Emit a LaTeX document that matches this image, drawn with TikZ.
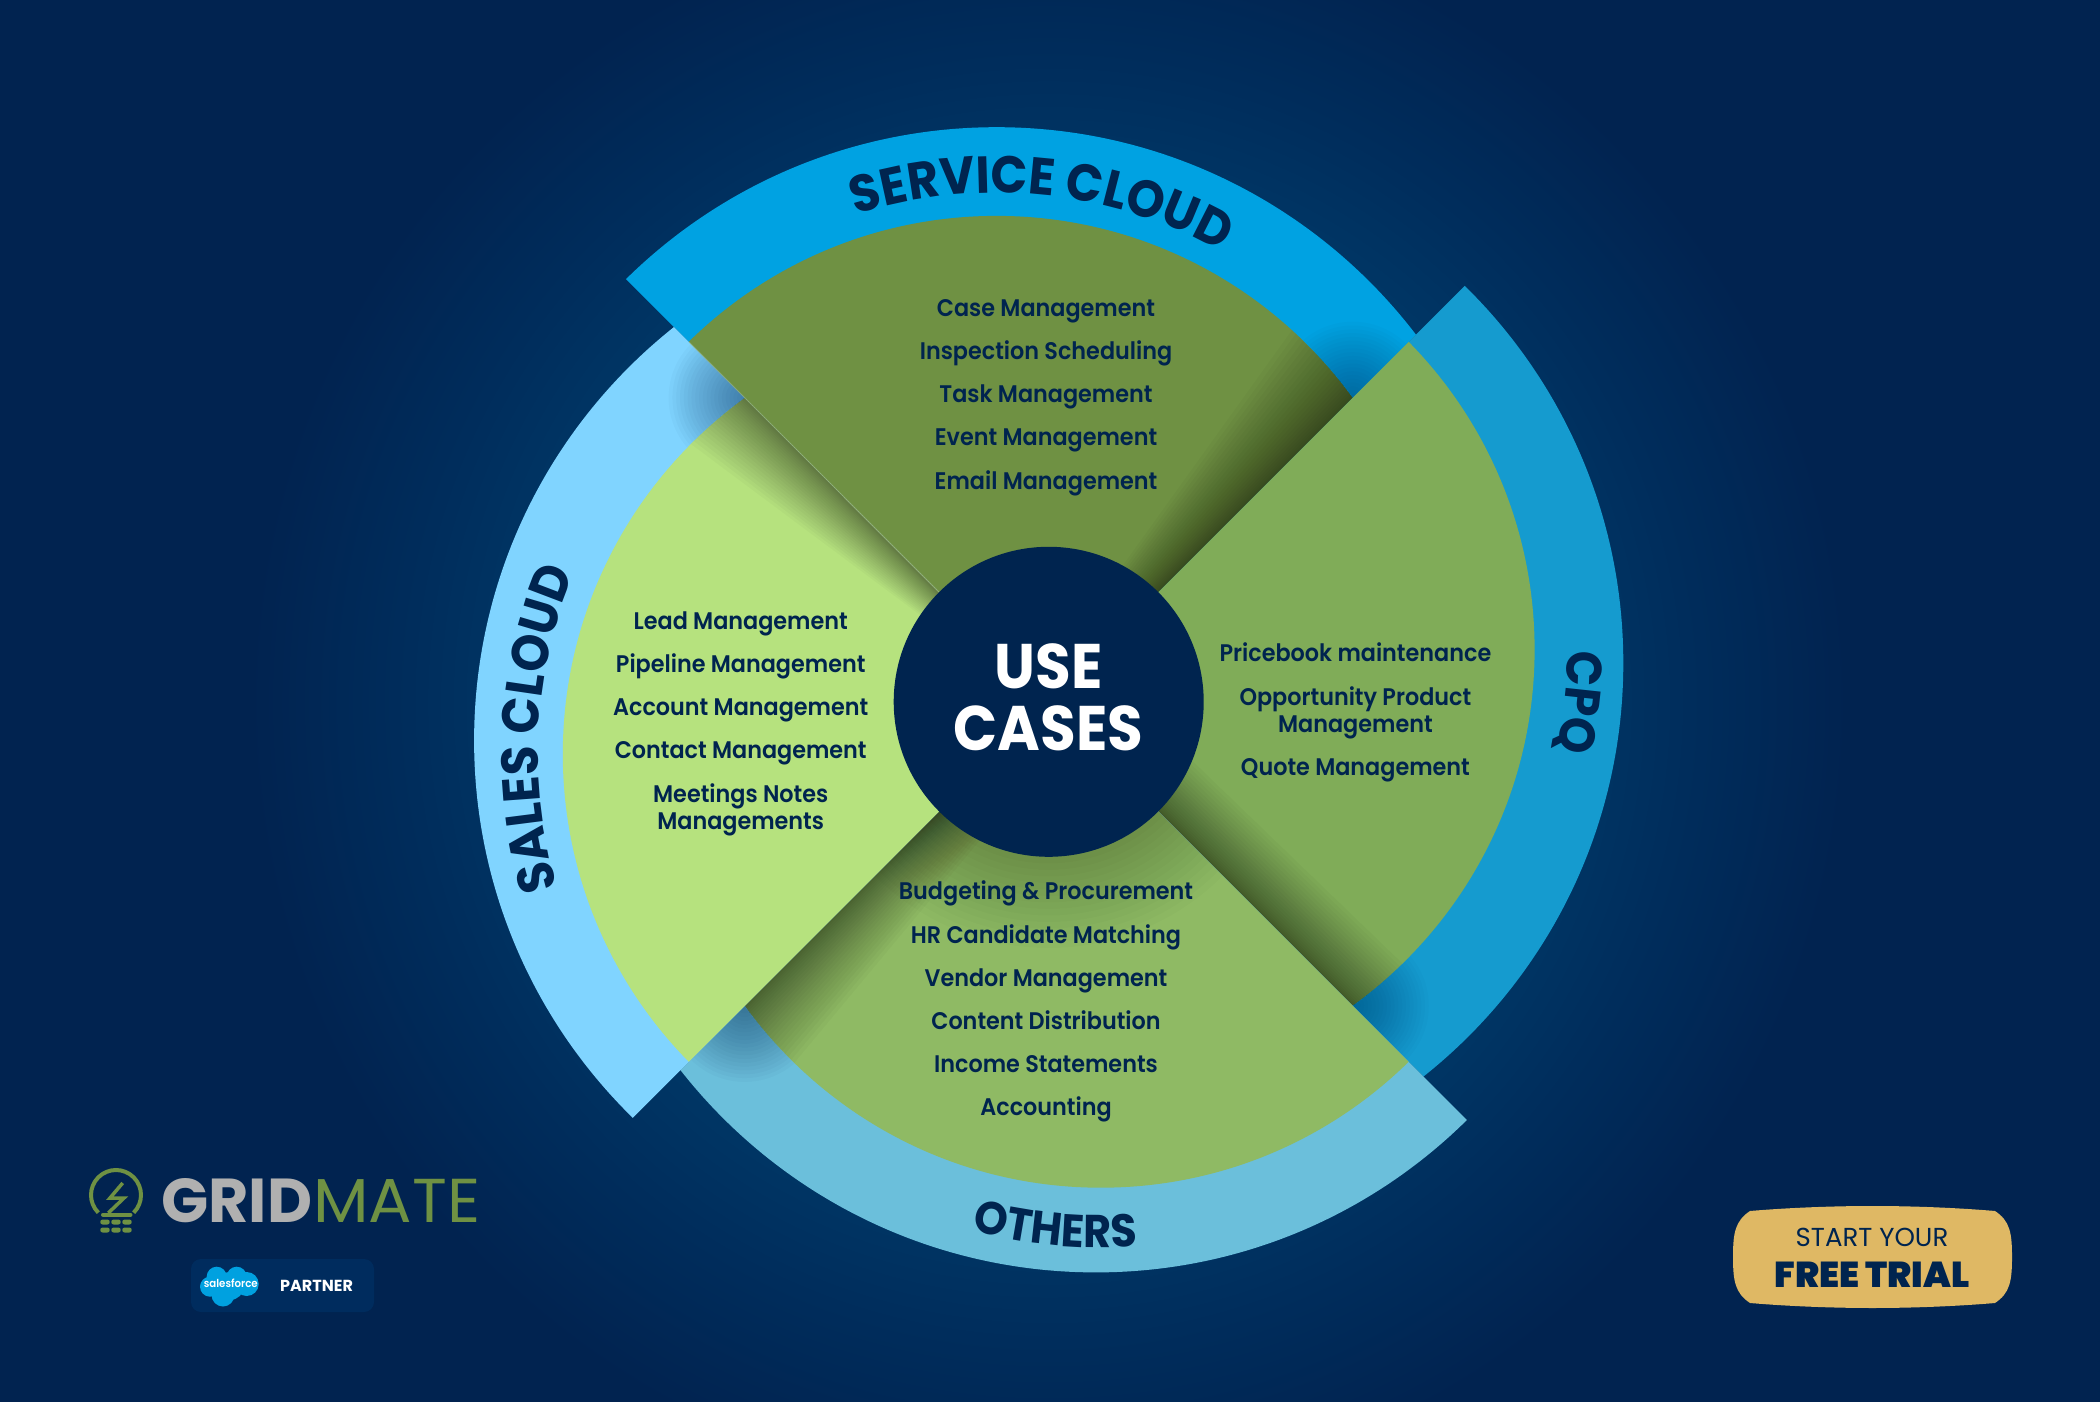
\documentclass[tikz,border=0pt]{standalone}
\usepackage{fontspec}
\usetikzlibrary{decorations.text}
\setmainfont{Poppins}
\newfontfamily\fmed[FakeStretch=0.93]{Poppins SemiBold}
\newfontfamily\fcurve[FakeStretch=0.93]{Poppins Bold}
\newfontfamily\fhub[FakeStretch=0.92]{Poppins Bold}
\newfontfamily\fbold{Poppins Bold}
\newfontfamily\flight[FakeStretch=1.04]{Poppins}
\newfontfamily\freg{Poppins}
\newfontfamily\fblack{Poppins Black}
\definecolor{navy}{HTML}{00244F}
\definecolor{bgbase}{HTML}{012350}
\definecolor{gServ}{HTML}{6F9143}
\definecolor{bServ}{HTML}{00A2E2}
\definecolor{gCpq}{HTML}{80AC58}
\definecolor{bCpq}{HTML}{159BCF}
\definecolor{gOth}{HTML}{8FBA64}
\definecolor{bOth}{HTML}{6BBFDB}
\definecolor{gSal}{HTML}{B6E27E}
\definecolor{bSal}{HTML}{80D4FF}
\definecolor{gold}{HTML}{DFB864}
\definecolor{pbg}{HTML}{002C5E}
\definecolor{sfblue}{HTML}{00A1E0}
\definecolor{lgray}{HTML}{B0B0B0}
\definecolor{glowA}{HTML}{004070}
\definecolor{glowB}{HTML}{003D6E}
\definecolor{glowC}{HTML}{003766}
\definecolor{glowD}{HTML}{002D5C}
\pgfdeclareradialshading{bgglow}{\pgfpoint{0bp}{0bp}}{%
  color(0bp)=(glowA);
  color(12.5bp)=(glowB);
  color(16bp)=(glowC);
  color(20bp)=(glowD);
  color(25bp)=(bgbase);
  color(50bp)=(bgbase)}
\tikzset{
  item/.style={anchor=base,inner sep=0pt,text=navy,align=center,font=\fontsize{24}{24}\selectfont\fmed},
}
% #1 rotation, #2 band colour, #3 green colour, #4 width near centre, #5 width at rim, #6 step opacity, #7 blob step opacity, #8 band centre (local)
\newcommand{\sectorpiece}[8]{%
  \begin{scope}[shift={(1048.7,699.2)},rotate=#1]
    \begin{scope}
      \clip (0,0)--(135:1200)--(45:1200)--cycle;
      \fill[#2] #8 circle (527.7);
      \begin{scope}
        \clip #8 circle (527.7);
        \foreach \k in {1,...,20}{\fill[bgbase,opacity=#7] (45:430) circle ({\k*3.8});}
      \end{scope}
      \fill[#3] (-52.2,46.9) circle (439);
      \begin{scope}
        \clip (-52.2,46.9) circle (439);
        \begin{scope}[rotate=45]
          \foreach \k in {1,...,24}{%
            \pgfmathsetmacro{\f}{pow(\k/24,1.4)}%
            \pgfmathsetmacro{\wl}{\f*(#4-(#5-#4)*0.2)}%
            \pgfmathsetmacro{\wh}{\f*(#5+(#5-#4)*0.98)}%
            \fill[black,opacity=#6] (100,0)--(100,\wl)--(700,\wh)--(700,0)--cycle;}
        \end{scope}
      \end{scope}
    \end{scope}
  \end{scope}}
\begin{document}
\begin{tikzpicture}[x=1pt,y=1pt]
\useasboundingbox (0,0) rectangle (2100,1401);
\fill[bgbase] (-5,-5) rectangle (2105,1406);
\shade[shading=bgglow] (1048.7,699.2) circle (800);

\sectorpiece{0}{bServ}{gServ}{45}{90}{0.024}{0.022}{(-52.2,46.9)}
\sectorpiece{-90}{bCpq}{gCpq}{60}{65}{0.024}{0.022}{(-38.8,46.9)}
\sectorpiece{-180}{bOth}{gOth}{50}{75}{0.022}{0.026}{(-47.2,42.9)}
\sectorpiece{-270}{bSal}{gSal}{30}{70}{0.022}{0.026}{(-38.8,46.9)}

% soft darkening round the hub on the lower sector
\begin{scope}[shift={(1048.7,699.2)}]
  \clip (0,0)--(225:400)--(315:400)--cycle;
  \foreach \k in {1,...,14}{\fill[black,opacity=0.014] (0,0) circle ({155+\k*6.5});}
\end{scope}

% hairline on the service / sales edge
\coordinate (hairA) at (938.9,809);
\coordinate (hairB) at (689,1059);
\draw[gServ!70!white,opacity=.7,line width=1pt] (hairA)--(hairB);

% hub
\node[circle,fill=navy,minimum size=310pt,inner sep=0pt] (hub) at (1048.7,699.2) {};
\node[anchor=base,inner sep=0pt,text=white,font=\fontsize{63}{63}\selectfont\fhub] (use) at (1048.5,712) {USE};
\node[anchor=base,inner sep=0pt,text=white,font=\fontsize{63}{63}\selectfont\fhub] (cases) at (1048.5,650) {CASES};

% curved labels
\path[decorate,decoration={text along path,text align=center,text={|\fontsize{52}{52}\selectfont\fcurve\color{navy}|SERVICE CLOUD}}]
  (996.5,746.1) ++(134.3:462) arc[start angle=134.3,end angle=34.3,radius=462];
\path[decorate,decoration={text along path,text align=center,text={|\fontsize{50}{50}\selectfont\fcurve\color{navy}|CPQ}}]
  (1095.6,751.4) ++(43.8:472) arc[start angle=43.8,end angle=-56.2,radius=472];
\path[decorate,decoration={text along path,text align=center,text={|\fontsize{46}{46}\selectfont\fcurve\color{navy}|OTHERS}}]
  (1100.9,652.3) ++(224.6:499) arc[start angle=224.6,end angle=304.6,radius=499];
\path[decorate,decoration={text along path,text align=center,text={|\fontsize{52}{52}\selectfont\fcurve\color{navy}|SALES CLOUD}}]
  (1001.8,647) ++(226.9:464) arc[start angle=226.9,end angle=126.9,radius=464];

% item lists
\node[item] (s1) at (1046,1084) {Case Management};
\node[item] (s2) at (1046,1041) {Inspection Scheduling};
\node[item] (s3) at (1046,998) {Task Management};
\node[item] (s4) at (1046,955) {Event Management};
\node[item] (s5) at (1046,911) {Email Management};
\node[item] (l1) at (740.7,771) {Lead Management};
\node[item] (l2) at (740.7,728) {Pipeline Management};
\node[item] (l3) at (740.7,685) {Account Management};
\node[item] (l4) at (740.7,642) {Contact Management};
\node[item] (l5) at (740.7,598) {Meetings Notes};
\node[item] (l6) at (740.7,571) {Managements};
\node[item] (c1) at (1355.4,739) {Pricebook maintenance};
\node[item] (c2) at (1355.4,695) {Opportunity Product};
\node[item] (c3) at (1355.4,668.5) {Management};
\node[item] (c4) at (1355.4,625) {Quote Management};
\node[item] (o1) at (1046,501) {Budgeting \& Procurement};
\node[item] (o2) at (1046,458) {HR Candidate Matching};
\node[item] (o3) at (1046,415) {Vendor Management};
\node[item] (o4) at (1046,372) {Content Distribution};
\node[item] (o5) at (1046,329) {Income Statements};
\node[item] (o6) at (1046,286) {Accounting};

% logo
\draw[gServ,line width=4pt] (116,206) ++(225:25) arc[start angle=225,end angle=-45,radius=25];
\draw[gServ,line width=3.5pt,line join=miter] (122.7,218)--(110,203)--(124,203)--(108.3,188);
\draw[gServ,line width=4pt,line cap=round] (103,186.3)--(130.5,186.3);
\foreach \x in {105,116,127}{\foreach \y in {171,179}{\fill[gServ,rounded corners=2.3pt] ({\x-4.7},{\y-2.5}) rectangle ({\x+4.7},{\y+2.5});}}
\node[anchor=base west,inner sep=0pt,text=lgray,font=\fontsize{62}{62}\selectfont\fbold] (grid) at (161,179) {GRID};
\node[anchor=base west,inner sep=0pt,text=gServ,font=\fontsize{62}{62}\selectfont\flight] (mate) at (313,179) {MATE};

% partner badge
\fill[pbg,rounded corners=10pt] (191,89) rectangle (374,142);
\fill[sfblue] (216.7,124.3) circle (10) (236.7,124.3) circle (10) (246.7,117) circle (12) (223,106) circle (11.5) (210,114.3) circle (10) (230,115) circle (14);
\node[anchor=base,inner sep=0pt,text=white,font=\fontsize{11}{11}\selectfont\fmed] (sf) at (230.8,114) {salesforce};
\node[anchor=base west,inner sep=0pt,text=white,font=\fontsize{16}{16}\selectfont\fbold] (partner) at (280,110) {PARTNER};

% trial button
\fill[gold] (1733,144) .. controls (1733,168) and (1735,180) .. (1750,190)
  .. controls (1785,193) and (1830,195) .. (1872.5,195)
  .. controls (1915,195) and (1960,193) .. (1995,190)
  .. controls (2010,180) and (2012,168) .. (2012,144)
  .. controls (2012,120) and (2010,108) .. (1995,98)
  .. controls (1960,95) and (1915,93) .. (1872.5,93)
  .. controls (1830,93) and (1785,95) .. (1750,98)
  .. controls (1735,108) and (1733,120) .. (1733,144) -- cycle;
\node[anchor=base,inner sep=0pt,text=navy,font=\fontsize{26}{26}\selectfont\freg] (start) at (1872,155) {START YOUR};
\node[anchor=base,inner sep=0pt,text=navy,font=\fontsize{36}{36}\selectfont\fblack] (free) at (1872,114) {FREE TRIAL};
\end{tikzpicture}
\end{document}
